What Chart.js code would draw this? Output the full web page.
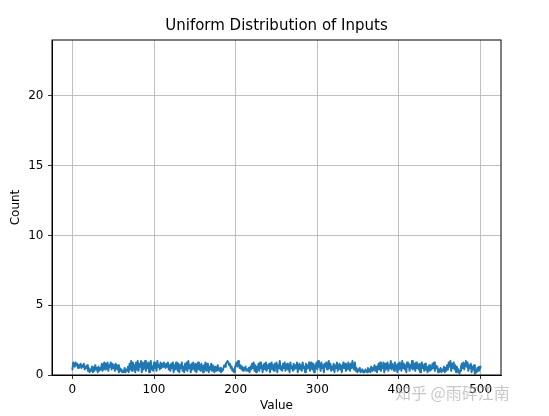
<!DOCTYPE html>
<html>
<head>
<meta charset="utf-8">
<title>Uniform Distribution of Inputs</title>
<script src="https://cdn.jsdelivr.net/npm/chart.js@4.4.1/dist/chart.umd.min.js"></script>
<style>
  html, body { margin: 0; padding: 0; background: #fff; }
  #wrap { width: 549px; height: 416px; }
</style>
</head>
<body>
<div id="wrap"><canvas id="uniformChart" width="549" height="416"></canvas></div>
<script>
// counts per input value, 0..500
const counts = [
  0.4,0.9,0.8,0.6,0.9,0.7,0.8,0.5,0.7,0.6,0.8,0.5,0.7,0.6,0.8,0.4,0.6,0.5,0.7,0.3,
  0.5,0.2,0.4,0.3,0.6,0.2,0.5,0.3,0.7,0.4,0.5,0.2,0.6,0.3,0.5,0.4,0.8,0.3,0.6,0.9,
  0.4,0.8,0.5,0.9,0.3,0.7,0.6,0.9,0.4,0.8,0.5,0.7,0.3,0.8,0.6,0.4,0.7,0.2,0.5,0.3,
  0.4,0.2,0.3,0.2,0.5,0.2,0.4,0.3,0.6,0.2,0.8,0.4,1.0,0.3,0.9,0.5,0.7,0.2,0.9,0.4,
  1.0,0.3,0.8,0.6,1.0,0.2,0.9,0.4,0.7,1.0,0.3,0.8,0.5,0.9,0.2,0.7,1.0,0.4,0.6,0.3,
  0.9,0.5,0.8,0.3,1.0,0.6,0.7,0.4,0.9,0.5,0.8,0.6,0.9,0.7,0.5,0.8,0.6,0.9,0.4,0.7,
  0.3,0.8,0.5,0.9,0.2,0.7,0.4,0.9,0.6,0.3,0.8,0.2,0.7,0.5,0.9,0.3,0.6,0.2,0.8,0.4,
  0.9,0.3,1.0,0.5,0.7,0.2,0.8,0.4,0.9,0.6,0.3,0.8,0.2,0.6,0.9,0.4,0.7,0.3,0.8,0.5,
  0.2,0.7,0.4,0.9,0.3,0.8,0.5,0.2,0.6,0.4,0.8,0.3,0.7,0.5,0.2,0.6,0.3,0.5,0.7,0.4,
  0.3,0.5,0.2,0.4,0.3,0.5,0.7,0.6,0.8,0.9,1.0,0.9,0.7,0.8,0.5,0.6,0.3,0.4,0.2,0.5,
  0.7,0.9,0.6,1.0,0.8,0.5,0.7,0.4,0.6,0.3,0.5,0.4,0.6,0.3,0.4,0.3,0.5,0.2,0.6,0.4,
  0.8,0.5,0.9,0.3,0.7,0.2,0.6,0.4,0.8,0.3,0.9,0.5,0.7,0.2,0.6,0.8,0.4,0.9,0.3,0.7,
  0.5,0.8,0.2,0.6,0.9,0.4,0.7,0.3,0.8,0.6,0.9,0.2,0.7,0.5,1.0,0.4,0.6,0.3,0.8,0.5,
  0.9,0.3,0.6,0.8,0.4,0.7,0.2,0.9,0.5,0.6,0.3,0.8,0.4,0.7,0.5,0.9,0.2,0.6,0.8,0.4,
  0.7,0.3,0.9,0.5,0.6,0.2,0.8,0.4,0.7,0.5,0.9,0.3,0.6,0.9,0.4,0.8,0.2,0.7,0.5,0.9,
  0.4,1.0,0.6,0.8,0.3,0.9,0.5,0.7,0.2,0.8,0.6,0.9,0.4,0.7,1.0,0.5,0.8,0.3,0.6,0.4,
  0.8,0.2,0.7,0.5,0.9,0.3,0.6,0.8,0.4,0.7,0.2,0.6,0.9,0.5,0.8,0.3,0.7,0.4,0.9,0.6,
  0.3,0.8,0.5,1.0,0.6,0.4,0.9,0.3,0.5,0.2,0.4,0.3,0.5,0.2,0.3,0.4,0.2,0.3,0.2,0.4,
  0.3,0.2,0.5,0.3,0.4,0.2,0.6,0.3,0.5,0.4,0.7,0.3,0.6,0.2,0.5,0.8,0.4,0.9,0.3,0.7,
  0.5,0.9,0.2,0.8,0.4,0.6,0.9,0.3,0.7,0.5,1.0,0.4,0.8,0.6,0.3,0.9,0.5,0.7,0.2,0.8,
  0.4,0.9,0.6,0.3,1.0,0.5,0.8,0.4,0.7,0.2,0.9,0.6,0.8,0.3,0.7,0.5,1.0,0.4,0.6,0.8,
  0.3,0.9,0.5,0.7,0.4,0.8,0.2,0.6,0.9,0.5,0.7,0.3,0.8,0.4,0.6,0.2,0.5,0.7,0.3,0.6,
  0.4,0.8,0.5,0.9,0.3,0.7,0.5,0.6,0.2,0.4,0.3,0.5,0.2,0.4,0.3,0.6,0.2,0.5,0.3,0.7,
  0.4,0.9,0.6,1.0,0.3,0.8,0.5,0.9,0.4,0.7,0.2,0.6,0.3,0.4,0.1,0.3,0.6,0.8,0.5,0.9,
  0.4,0.8,1.0,0.6,0.9,0.3,0.7,0.5,0.8,0.2,0.6,0.4,0.7,0.1,0.3,0.2,0.5,0.3,0.6,0.4,
  0.6
];
// input values on the x axis
const values = counts.map((_, i) => i);

const xTicks = [0, 100, 200, 300, 400, 500];
const yTicks = [0, 5, 10, 15, 20];

const mplBlue = '#1f77b4';
const gridGrey = '#b0b0b0';
const font = 'DejaVu Sans';

// title over the axes, top/right spines, watermark
const framePlugin = {
  id: 'frame',
  afterDatasetsDraw(chart) {
    const { ctx, chartArea: a } = chart;
    ctx.save();
    ctx.strokeStyle = '#000';
    ctx.lineWidth = 1;
    ctx.strokeRect(a.left, a.top, a.right - a.left, a.bottom - a.top);
    ctx.restore();
  },
  afterDraw(chart) {
    const { ctx, chartArea: a } = chart;
    ctx.save();
    ctx.fillStyle = '#000';
    ctx.font = "15px 'DejaVu Sans'";
    ctx.textAlign = 'center';
    ctx.textBaseline = 'middle';
    ctx.fillText('Uniform Distribution of Inputs', (a.left + a.right) / 2, 26);

    ctx.fillStyle = 'rgba(170,170,170,0.65)';
    ctx.font = "16px 'Noto Sans CJK SC'";
    ctx.textAlign = 'left';
    ctx.fillText('知乎 @雨碎江南', 395, 393);
    ctx.restore();
  }
};

new Chart(document.getElementById('uniformChart'), {
  type: 'line',
  data: {
    datasets: [{
      data: values.map((v, i) => ({ x: v, y: counts[i] })),
      borderColor: mplBlue,
      borderWidth: 2,
      borderJoinStyle: 'round',
      borderCapStyle: 'round',
      pointRadius: 0,
      tension: 0,
      fill: false
    }]
  },
  options: {
    responsive: false,
    animation: false,
    layout: { padding: { left: 0, right: 48, top: 40, bottom: 0 } },
    plugins: {
      legend: { display: false },
      tooltip: { enabled: false },
      title: { display: false }
    },
    scales: {
      x: {
        type: 'linear',
        min: -25,
        max: 525,
        afterBuildTicks: s => { s.ticks = xTicks.map(v => ({ value: v })); },
        afterFit: s => { s.height = 41; },
        grid: { color: gridGrey, lineWidth: 0.8, tickLength: 4, tickColor: '#000' },
        border: { display: true, color: '#000', width: 1 },
        ticks: { color: '#000', padding: 4, maxRotation: 0, font: { family: font, size: 12 } },
        title: { display: true, text: 'Value', color: '#000', padding: { top: 0, bottom: 3 }, font: { family: font, size: 12 } }
      },
      y: {
        min: 0,
        max: 24,
        afterBuildTicks: s => { s.ticks = yTicks.map(v => ({ value: v })); },
        afterFit: s => { s.width = 52; },
        grid: { color: gridGrey, lineWidth: 0.8, tickLength: 4, tickColor: '#000' },
        border: { display: true, color: '#000', width: 1 },
        ticks: { color: '#000', padding: 4.5, font: { family: font, size: 12 } },
        title: { display: true, text: 'Count', color: '#000', padding: { top: 9, bottom: 0 }, font: { family: font, size: 12 } }
      }
    }
  },
  plugins: [framePlugin]
});
</script>
</body>
</html>
